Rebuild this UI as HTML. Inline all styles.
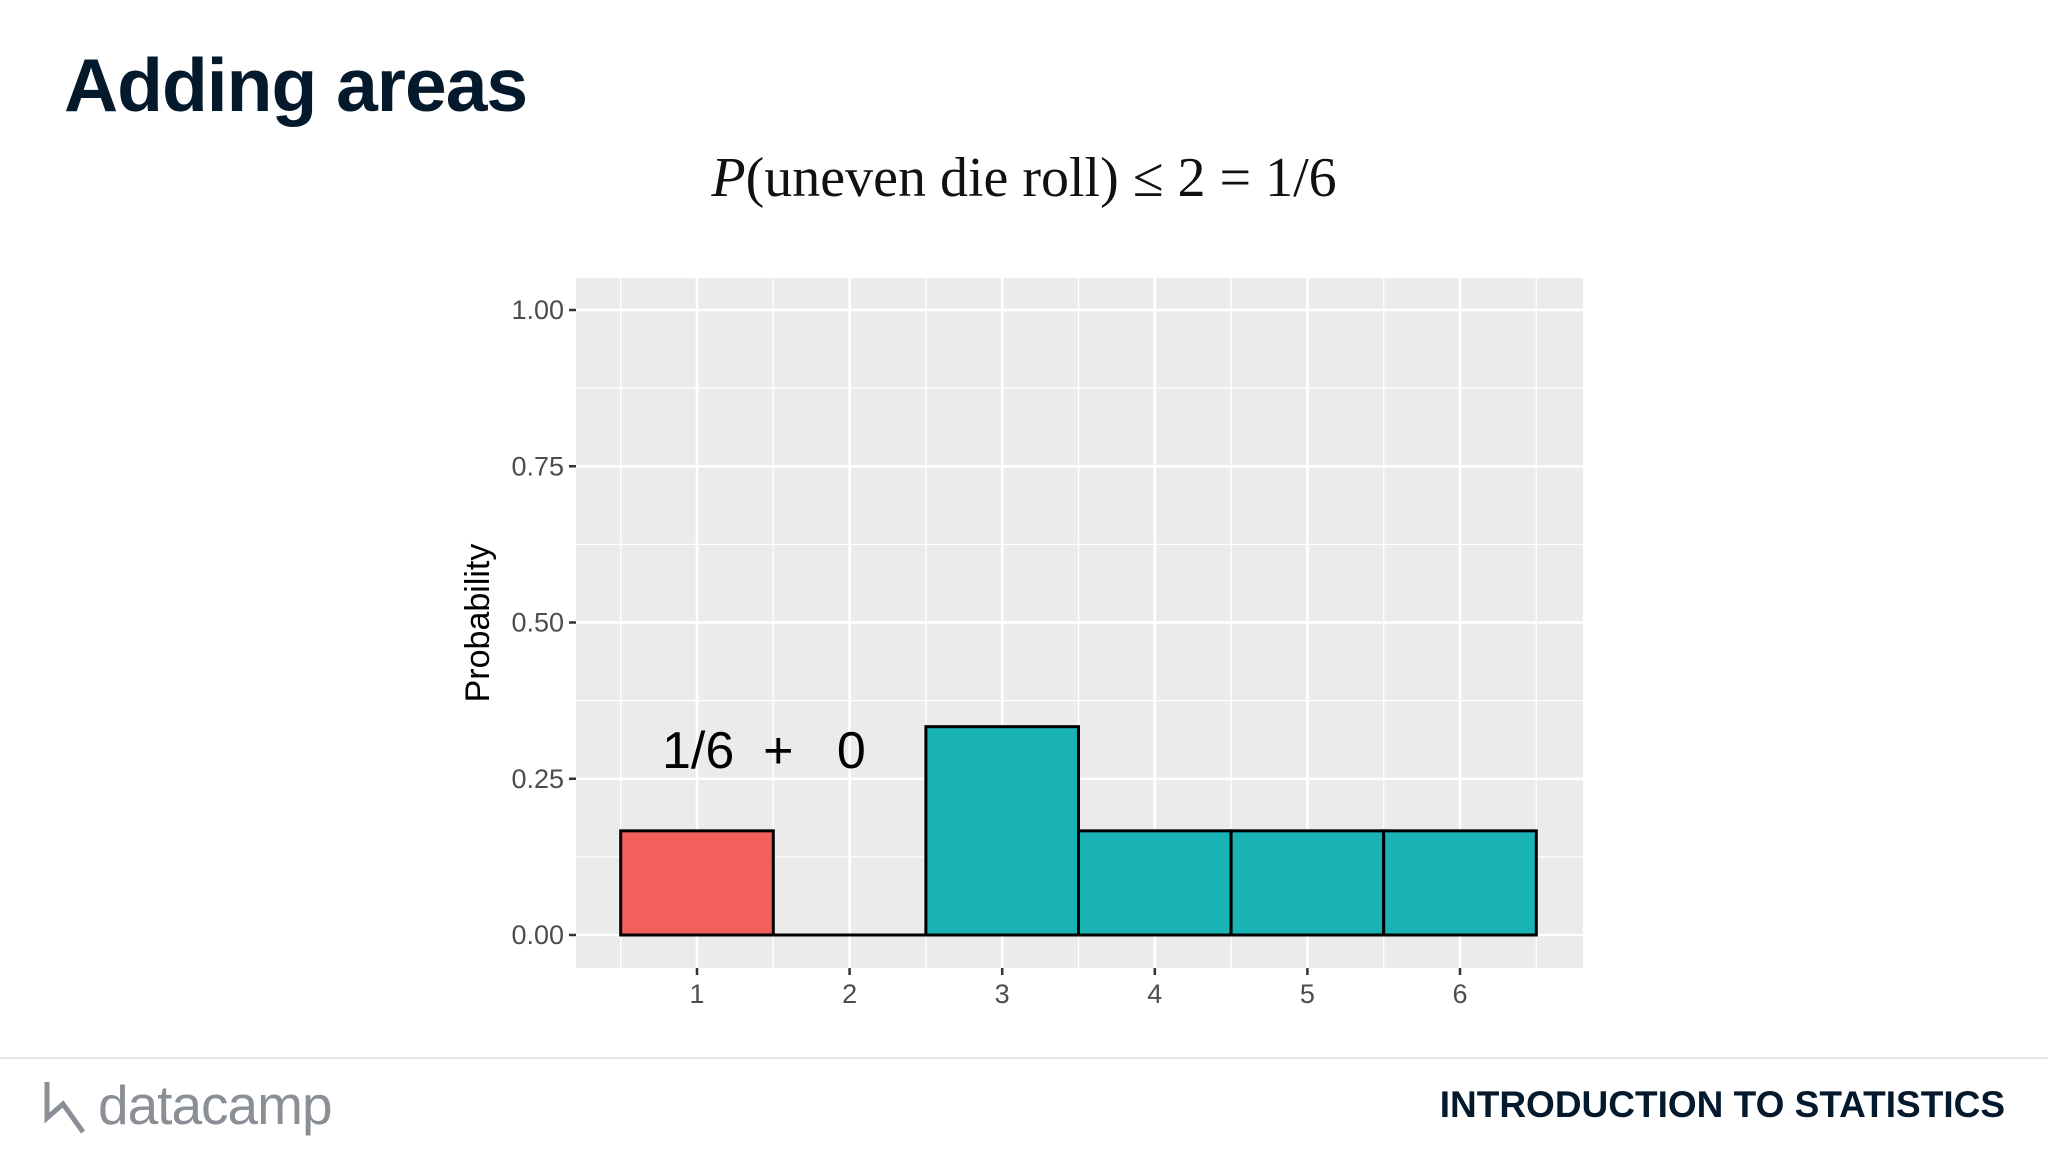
<!DOCTYPE html>
<html><head><meta charset="utf-8">
<style>
body{margin:0;width:2048px;height:1154px;background:#fff;overflow:hidden;position:relative;font-family:"Liberation Sans",sans-serif}
.t{position:absolute;white-space:nowrap}
</style></head><body>
<div class="t" style="left:64px;top:42px;font-size:75px;font-weight:bold;color:#05192d;letter-spacing:-1px">Adding areas</div>
<div class="t" style="left:0;width:2048px;text-align:center;top:146px;font-family:'Liberation Serif',serif;font-size:56px;color:#111"><i>P</i>(uneven die roll) ≤ 2 = 1/6</div>
<svg id="chart" style="position:absolute;left:0;top:0" width="2048" height="1154"></svg>
<div style="position:absolute;left:0;top:1057px;width:2048px;height:2px;background:#e5e5e5"></div>
<div class="t" style="left:43px;top:1073px;height:60px">
<svg width="50" height="60" style="position:absolute;left:0;top:5px"><path d="M4 4 V40 L20 26 L40 54" stroke="#8a8f96" stroke-width="5" fill="none"/></svg>
<span style="position:absolute;left:55px;top:0;font-size:55px;color:#8a8f96;letter-spacing:-1px">datacamp</span></div>
<div class="t" style="right:43px;top:1084px;font-size:37px;font-weight:bold;color:#05192d">INTRODUCTION TO STATISTICS</div>
<script>
const categories=[1,2,3,4,5,6];
const probs=[1/6,0,1/3,1/6,1/6,1/6];
const colors=['#f2605c','#19b3b6','#19b3b6','#19b3b6','#19b3b6','#19b3b6'];
const yTicks=[0,0.25,0.5,0.75,1];
const yTickLabels=['0.00','0.25','0.50','0.75','1.00'];
const NS='http://www.w3.org/2000/svg';
const svg=document.getElementById('chart');
const P={l:576,r:1583,t:278,b:968};
const xs=v=>697+(v-1)*152.6;
const ys=v=>935-v*625;
function mk(t,a){const e=document.createElementNS(NS,t);for(const k in a)e.setAttribute(k,a[k]);svg.appendChild(e);return e;}
let bg=mk('rect',{x:P.l,y:P.t,width:P.r-P.l,height:P.b-P.t,fill:'#ebebeb'});


for(let i=0;i<yTicks.length-1;i++){const v=(yTicks[i]+yTicks[i+1])/2;let g=mk('line',{x1:P.l,x2:P.r,y1:ys(v),y2:ys(v),stroke:'#fff','stroke-width':1.3});}
for(let i=0;i<=categories.length;i++){const v=categories[0]-0.5+i;let g=mk('line',{x1:xs(v),x2:xs(v),y1:P.t,y2:P.b,stroke:'#fff','stroke-width':1.3});}
yTicks.forEach((v,i)=>{let g=mk('line',{x1:P.l,x2:P.r,y1:ys(v),y2:ys(v),stroke:'#fff','stroke-width':2.6});
let tk=mk('line',{x1:P.l-7,x2:P.l,y1:ys(v),y2:ys(v),stroke:'#333','stroke-width':2.5});
let t=mk('text',{x:P.l-12,y:ys(v)+9,'text-anchor':'end','font-size':27,fill:'#4d4d4d','font-family':'Liberation Sans'});t.textContent=yTickLabels[i];});
categories.forEach((c,i)=>{let g=mk('line',{x1:xs(c),x2:xs(c),y1:P.t,y2:P.b,stroke:'#fff','stroke-width':2.6});
let tk=mk('line',{x1:xs(c),x2:xs(c),y1:P.b,y2:P.b+7,stroke:'#333','stroke-width':2.5});
let t=mk('text',{x:xs(c),y:P.b+35,'text-anchor':'middle','font-size':27,fill:'#4d4d4d','font-family':'Liberation Sans'});t.textContent=c;});
categories.forEach((c,i)=>{const y0=ys(probs[i]);
if(probs[i]===0){let b=mk('line',{x1:xs(c-0.5),x2:xs(c+0.5),y1:y0,y2:y0,stroke:'#000','stroke-width':3});return;}
let b=mk('rect',{x:xs(c-0.5),y:y0,width:xs(c+0.5)-xs(c-0.5),height:ys(0)-y0,fill:colors[i],stroke:'#000','stroke-width':3});});
let yl=mk('text',{x:0,y:0,transform:'translate(489,623) rotate(-90)','text-anchor':'middle','font-size':34,fill:'#000','font-family':'Liberation Sans'});yl.textContent='Probability';


let an=mk('text',{x:662,y:768,'font-size':52,fill:'#000','font-family':'Liberation Sans'});an.textContent='1/6  +   0';an.style.whiteSpace='pre';


</script>
</body></html>
